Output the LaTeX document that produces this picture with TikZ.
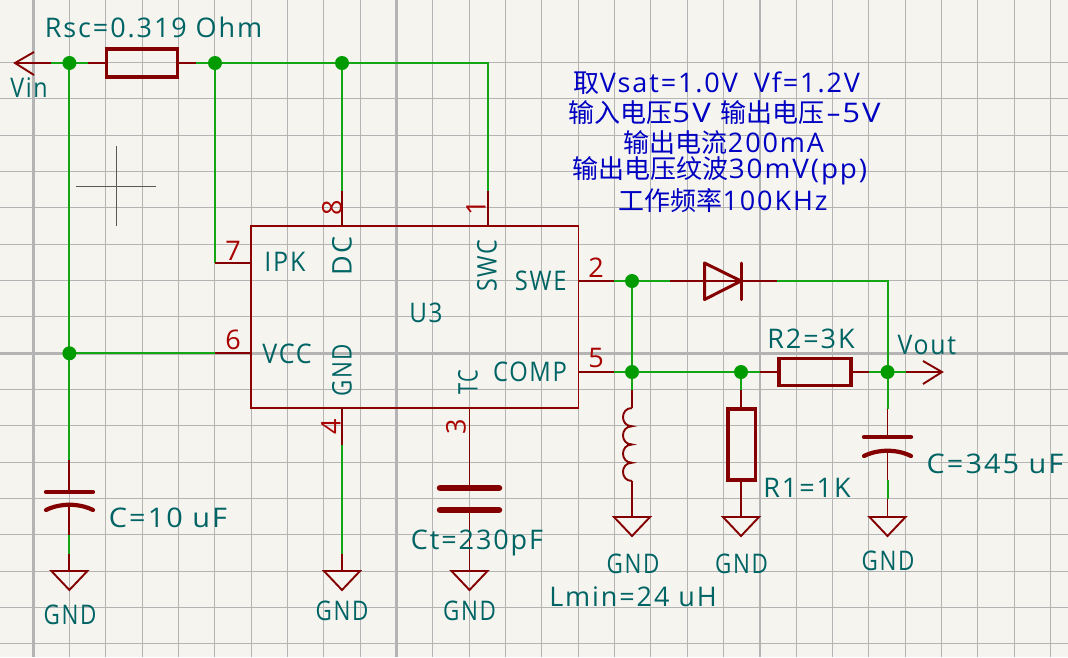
\documentclass[tikz,border=0pt]{standalone}
\usepackage{fontspec}
\setmainfont[LetterSpace=7]{Open Sans}
\newfontfamily\cjk{Noto Sans CJK SC}
\definecolor{bgc}{RGB}{245,244,239}
\definecolor{gridc}{RGB}{180,180,180}
\definecolor{wirec}{RGB}{20,165,20}
\definecolor{dotc}{RGB}{0,155,0}
\definecolor{bodyc}{RGB}{132,0,0}
\definecolor{pinc}{RGB}{169,0,0}
\definecolor{textc}{RGB}{0,100,100}
\definecolor{notec}{RGB}{0,0,194}
\newcommand{\cj}[1]{{\cjk\fontsize{26}{26}\selectfont #1}}
\newcommand{\nw}[2]{\scalebox{#1}[1]{#2}}
\tikzset{
  gridln/.style={draw=gridc,line width=1pt},
  gridthick/.style={draw=gridc,line width=2.8pt},
  wire/.style={draw=wirec,line width=2pt},
  pinln/.style={draw=bodyc,line width=1.9pt},
  sym/.style={draw=bodyc,line width=1.9pt,line join=miter},
  heavy/.style={draw=bodyc,line width=3pt,line cap=round,line join=round},
  plate/.style={draw=bodyc,line width=4.2pt,line cap=round},
  bigplate/.style={draw=bodyc,line width=6.5pt,line cap=round},
  dot/.style={circle,fill=dotc,inner sep=0pt,minimum size=14pt},
  res/.style={draw=bodyc,line width=3.2pt,inner sep=0pt,rectangle},
  chip/.style={draw=pinc!85!black,line width=1.9pt,inner sep=0pt,rectangle,minimum width=327.5pt,minimum height=182pt},
  lbl/.style={text=textc,inner sep=0pt,font=\fontsize{27}{27}\selectfont},
  num/.style={text=pinc,inner sep=0pt,font=\fontsize{27}{27}\selectfont},
  note/.style={text=notec,inner sep=0pt,font=\fontsize{27}{27}\selectfont},
}
\begin{document}
\begin{tikzpicture}[x=1pt,y=-1pt]
\useasboundingbox (0,0) rectangle (1068,657);
\fill[bgc] (0,0) rectangle (1068,657);
% grid
\foreach \i in {0,...,28}{\draw[gridln] ({33.3+36.33*\i},0) -- ({33.3+36.33*\i},657);}
\foreach \j in {-8,...,9}{\draw[gridln] (0,{353.3+36.33*\j}) -- (1068,{353.3+36.33*\j});}
\draw[gridthick] (33.3,0) -- (33.3,657);
\draw[gridthick] (396.6,0) -- (396.6,657);
\draw[gridthick] (760,0) -- (760,657);
\draw[gridthick] (0,353.3) -- (1068,353.3);
% crosshair
\coordinate (chl) at (76,186.5); \coordinate (chr) at (156,186.5);
\coordinate (cht) at (116.5,146); \coordinate (chb) at (116.5,226);
\draw[black!65,line width=0.6pt] (chl) -- (chr) (cht) -- (chb);

% named points
\coordinate (vintip) at (15,63);
\coordinate (vinend) at (51,63);
\coordinate (j1) at (69.4,63);
\coordinate (rscL0) at (88,63);
\coordinate (rscR0) at (196,63);
\coordinate (j2) at (215,63);
\coordinate (j3) at (342,63);
\coordinate (tr) at (487.6,63);
\coordinate (p1) at (487.6,191);
\coordinate (p1b) at (487.6,226);
\coordinate (p8) at (342,191);
\coordinate (p8b) at (342,226);
\coordinate (p7w) at (215,263);
\coordinate (p7b) at (251,263);
\coordinate (j4) at (69.4,353.3);
\coordinate (p6) at (215,353.3);
\coordinate (p6b) at (251,353.3);
\coordinate (c1t) at (69.4,460);
\coordinate (c1pa) at (69.4,492);
\coordinate (c1pb) at (69.4,503);
\coordinate (c1b) at (69.4,535);
\coordinate (g1p) at (69.4,554);
\coordinate (g1) at (69.4,571);
\coordinate (p4t) at (342,408);
\coordinate (p4) at (342,445);
\coordinate (g2p) at (342,554);
\coordinate (g2) at (342,571);
\coordinate (p3t) at (469.5,408);
\coordinate (ctpa) at (469.5,488);
\coordinate (ctpb) at (469.5,510);
\coordinate (g3) at (469.5,571);
\coordinate (p2b) at (578.5,281);
\coordinate (p2) at (614,281);
\coordinate (j5) at (632,281);
\coordinate (da) at (670,281);
\coordinate (dm) at (741,281);
\coordinate (dk) at (777,281);
\coordinate (cor) at (887.5,281);
\coordinate (p5b) at (578.5,372);
\coordinate (p5) at (614,372);
\coordinate (j6) at (632,372);
\coordinate (j7) at (741,372);
\coordinate (r2l0) at (760,372);
\coordinate (r2r0) at (869,372);
\coordinate (j8) at (887.5,372);
\coordinate (vo0) at (906,372);
\coordinate (votip) at (942,372);
\coordinate (lp) at (632,390);
\coordinate (lt) at (632,408);
\coordinate (lb) at (632,481);
\coordinate (g4) at (632,517);
\coordinate (r1p) at (741,390);
\coordinate (g5) at (741,517);
\coordinate (c3t) at (887.5,409);
\coordinate (c3pa) at (887.5,437);
\coordinate (c3pb) at (887.5,449);
\coordinate (c3b) at (887.5,480);
\coordinate (g6p) at (887.5,499);
\coordinate (g6) at (887.5,517);

% chip and resistors
\node[chip] (u3) at (414.75,317) {};
\node[res,minimum width=71pt,minimum height=28pt] (rsc) at (142,63) {};
\node[res,minimum width=72pt,minimum height=27pt] (r2) at (815,372) {};
\node[res,minimum width=27.5pt,minimum height=71pt] (r1) at (741.7,444.5) {};

% wires
\draw[wire] (vinend) -- (j1) -- (rscL0);
\draw[wire] (rscR0) -- (j2) -- (j3) -- (tr) -- (p1);
\draw[wire] (j3) -- (p8);
\draw[wire] (j2) -- (p7w);
\draw[wire] (j1) -- (c1t);
\draw[wire] (j4) -- (p6);
\draw[wire] (c1b) -- (g1p);
\draw[wire] (p4) -- (g2p);
\draw[wire] (p2) -- (da);
\draw[wire] (dk) -- (cor) -- (j8);
\draw[wire] (j5) -- (j6) -- (lp);
\draw[wire] (p5) -- (r2l0);
\draw[wire] (j7) -- (r1p);
\draw[wire] (r2r0) -- (vo0);
\draw[wire] (j8) -- (c3t);
\draw[wire] (c3b) -- (g6p);

% pins
\draw[pinln] (vintip) -- (vinend);
\draw[pinln] (p1) -- (p1b);
\draw[pinln] (p8) -- (p8b);
\draw[pinln] (p7w) -- (p7b);
\draw[pinln] (p6) -- (p6b);
\draw[pinln] (p2b) -- (p2);
\draw[pinln] (p5b) -- (p5);
\draw[pinln] (p4t) -- (p4);
\draw[pinln] (p3t) -- (ctpa);
\draw[pinln] (ctpb) -- (g3);
\draw[pinln] (c1t) -- (c1pa);
\draw[pinln] (c1pb) -- (c1b);
\draw[pinln] (g1p) -- (g1);
\draw[pinln] (g2p) -- (g2);
\draw[pinln] (lp) -- (lt);
\draw[pinln] (lb) -- (g4);
\draw[pinln] (r1p) -- (r1.north -| r1p);
\draw[pinln] (r1.south -| g5) -- (g5);
\draw[pinln] (c3t) -- (c3pa);
\draw[pinln] (c3pb) -- (c3b);
\draw[pinln] (g6p) -- (g6);
\draw[pinln] (da) -- (dm) -- (dk);
\draw[pinln] (rscL0) -- (rsc.west);
\draw[pinln] (rsc.east) -- (rscR0);
\draw[pinln] (r2l0) -- (r2.west);
\draw[pinln] (r2.east) -- (r2r0);
\draw[pinln] (vo0) -- (votip);

% diode
\draw[heavy] (704.5,263) -- (704.5,299.5) -- (741,281) -- cycle;
\draw[heavy] (741,263) -- (741,299.5);
% inductor
\draw[pinln] (lt)
  .. controls (620,408) and (620,426.25) .. (632,426.25)
  .. controls (620,426.25) and (620,444.5) .. (632,444.5)
  .. controls (620,444.5) and (620,462.75) .. (632,462.75)
  .. controls (620,462.75) and (620,481) .. (lb);
% capacitors
\draw[plate] (46,492) -- (93,492);
\draw[plate] (46,510) .. controls (60,503) and (79,503) .. (93,510);
\draw[plate] (864,437) -- (911,437);
\draw[plate] (864,456) .. controls (878,449) and (897,449) .. (911,456);
\draw[bigplate] (440,488) -- (499,488);
\draw[bigplate] (440,510) -- (499,510);
% grounds
\foreach \g in {g1,g2,g3,g4,g5,g6}{
  \draw[sym] ([xshift=-18pt]\g) -- ([xshift=18pt]\g) -- ([yshift=-19pt]\g) -- cycle;
}
% arrows
\draw[sym] (34,52) -- (vintip) -- (34,75);
\draw[sym] (923,361) -- (votip) -- (923,384);

% junctions
\foreach \d in {j1,j2,j3,j4,j5,j6,j7,j8}{\node[dot] at (\d) {};}

% pin numbers
\node[num] (n7) at (233,251) {7};
\node[num] (n6) at (233,340) {6};
\node[num] (n2) at (596,268) {2};
\node[num] (n5) at (596,358) {5};
\node[num,rotate=90] (n8) at (332,208) {8};
\node[num,rotate=90] (n1) at (476,208) {1};
\node[num,rotate=90] (n4) at (331,427) {4};
\node[num,rotate=90] (n3) at (456,427) {3};

% labels
\node[lbl] (t1) at (153.5,27) {Rsc=0.319 Ohm};
\node[lbl] (t2) at (29,88) {\nw{.86}{Vin}};
\node[lbl] (t3) at (285,262) {\nw{.93}{IPK}};
\node[lbl] (t4) at (287,353.5) {\nw{.93}{VCC}};
\node[lbl] (t5) at (540.7,281) {\nw{.88}{SWE}};
\node[lbl] (t6) at (530,372) {\nw{.88}{COMP}};
\node[lbl] (t7) at (426,313) {\nw{.9}{U3}};
\node[lbl,rotate=90] (t8) at (342,256) {DC};
\node[lbl,rotate=90] (t9) at (487,266) {\nw{.86}{SWC}};
\node[lbl,rotate=90] (t10) at (342,370) {\nw{.83}{GND}};
\node[lbl,rotate=90] (t11) at (468,382) {\nw{.74}{TC}};
\node[lbl] (t12) at (811,339) {R2=3K};
\node[lbl] (t13) at (927,345) {\nw{.92}{Vout}};
\node[lbl] (t14) at (807,488) {R1=1K};
\node[lbl] (t15) at (995,464) {\nw{1.07}{C=345 uF}};
\node[lbl] (t16) at (168,518) {\nw{1.07}{C=10 uF}};
\node[lbl] (t17) at (477,543) {Ct=230pF};
\node[lbl] (t18) at (633,597) {Lmin=24 uH};
\node[lbl] (t19) at (70,615) {\nw{.83}{GND}};
\node[lbl] (t20) at (342,611) {\nw{.83}{GND}};
\node[lbl] (t21) at (469.5,611) {\nw{.83}{GND}};
\node[lbl] (t22) at (633,564) {\nw{.83}{GND}};
\node[lbl] (t23) at (741.5,564) {\nw{.83}{GND}};
\node[lbl] (t24) at (888,561) {\nw{.83}{GND}};

% note
\node[note] (l1) at (717,83) {\cj{取}Vsat=1.0V\hspace{16pt}Vf=1.2V};
\node[note] (l2) at (724.5,113) {\cj{输入电压}\nw{1.15}{5V}\hspace{10pt}\cj{输出电压}\hspace{2pt}–\hspace{2pt}\nw{1.15}{5V}};
\node[note] (l3) at (724,143) {\cj{输出电流}200mA};
\node[note] (l4) at (720,171) {\cj{输出电压纹波}\nw{1.03}{30mV(pp)}};
\node[note] (l5) at (723,201) {\cj{工作频率}100KHz};
\end{tikzpicture}
\end{document}
